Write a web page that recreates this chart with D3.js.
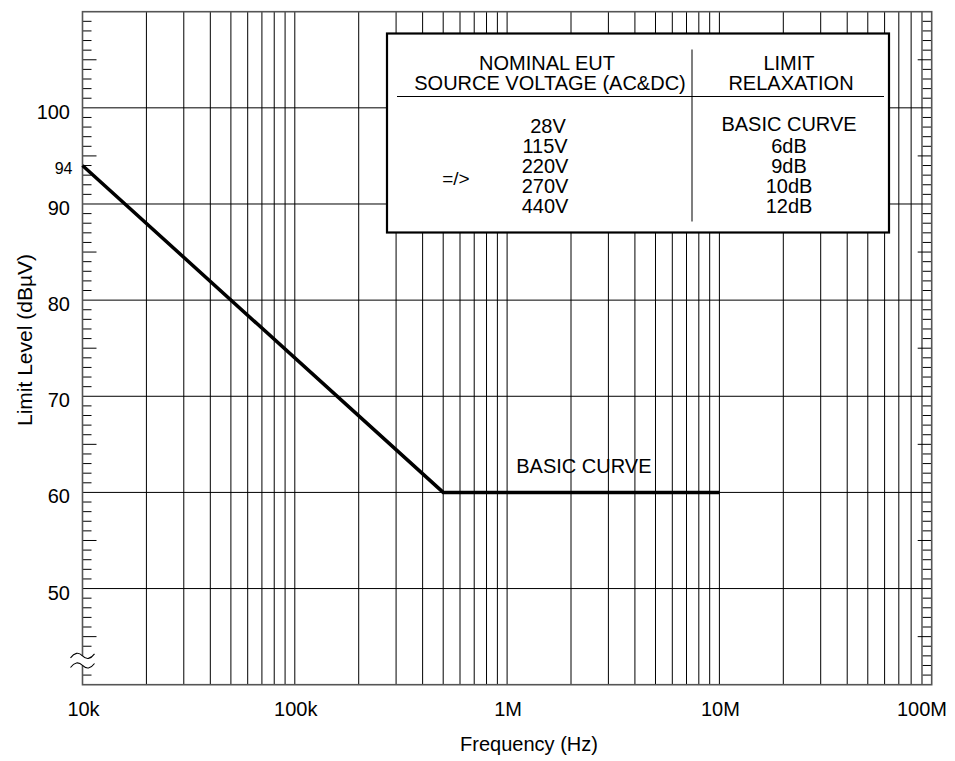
<!DOCTYPE html>
<html lang="en">
<head>
  <meta charset="utf-8">
  <title>Limit Level</title>
  <script src="https://cdn.jsdelivr.net/npm/d3@7/dist/d3.min.js"></script>
  <style>
    body { margin: 0; background: #fff; }
    text { font-family: "Liberation Sans", Arial, sans-serif; fill: #000; }
  </style>
</head>
<body>
  <script>
    // data
    const curveFreq = [1e4, 5e5, 1e7];
    const curveLevel = [94, 60, 60];
    const xTickValues = [1e4, 1e5, 1e6, 1e7, 1e8];
    const xTickLabels = ["10k", "100k", "1M", "10M", "100M"];
    const yTickValues = [50, 60, 70, 80, 90, 100];
    const yExtraTick = 94;
    const voltages = ["28V", "115V", "220V", "270V", "440V"];
    const relaxations = ["BASIC CURVE", "6dB", "9dB", "10dB", "12dB"];
    const curveLabel = { text: "BASIC CURVE", freq: 2.3e6, level: 62 };

    // config
    const width = 955, height = 761;
    const margin = { top: 11.7, right: 23.3, bottom: 76.3, left: 82.5 };
    const innerWidth = width - margin.left - margin.right;
    const innerHeight = height - margin.top - margin.bottom;

    const svg = d3.select("body").append("svg")
      .attr("width", width).attr("height", height);
    const g = svg.append("g")
      .attr("transform", `translate(${margin.left}, ${margin.top})`);

    const x = d3.scaleLog().domain([1e4, 1e8]).range([0, innerWidth]);
    const y = d3.scaleLinear().domain([40, 110]).range([innerHeight, 0]);

    // vertical grid: 1..9 in every decade
    let vGrid = [];
    for (let d = 1e4; d < 1e8; d *= 10) {
      for (let m = 1; m <= 9; m++) vGrid.push(d * m);
    }
    vGrid = vGrid.filter(v => v > 1e4);
    g.append("g").selectAll("line").data(vGrid).join("line")
      .attr("x1", d => x(d)).attr("x2", d => x(d))
      .attr("y1", 0).attr("y2", innerHeight)
      .attr("stroke", "#000").attr("stroke-width", 1);

    // horizontal grid
    g.append("g").selectAll("line").data(yTickValues).join("line")
      .attr("x1", 0).attr("x2", innerWidth)
      .attr("y1", d => y(d)).attr("y2", d => y(d))
      .attr("stroke", "#000").attr("stroke-width", 1);

    // minor ticks, left and right
    const minor = d3.range(41, 110).filter(v => v % 10 !== 0);
    const tickLen = v => (v % 5 === 0 ? 14 : 9);
    g.append("g").selectAll("line").data(minor.filter(v => v !== 42 && v !== 43)).join("line")
      .attr("x1", 0).attr("x2", d => tickLen(d))
      .attr("y1", d => y(d)).attr("y2", d => y(d))
      .attr("stroke", "#000").attr("stroke-width", 1);
    g.append("g").selectAll("line").data(minor).join("line")
      .attr("x1", innerWidth).attr("x2", d => innerWidth - tickLen(d))
      .attr("y1", d => y(d)).attr("y2", d => y(d))
      .attr("stroke", "#000").attr("stroke-width", 1);

    // frame
    g.append("rect")
      .attr("x", 0).attr("y", 0)
      .attr("width", innerWidth).attr("height", innerHeight)
      .attr("fill", "none").attr("stroke", "#555").attr("stroke-width", 1.6);

    // axis break symbol
    const brk = g.append("g");
    brk.append("rect")
      .attr("x", -3).attr("y", y(43)).attr("width", 6).attr("height", y(42) - y(43))
      .attr("fill", "#fff");
    [43, 42].forEach(v => {
      brk.append("path")
        .attr("d", `M-12,${y(v) + 2} Q-6,${y(v) - 6} 0,${y(v)} T12,${y(v) - 2}`)
        .attr("fill", "none").attr("stroke", "#000").attr("stroke-width", 1.1);
    });

    // y tick labels
    g.append("g").selectAll("text").data(yTickValues).join("text")
      .attr("x", -12.5).attr("y", d => y(d) + 11)
      .attr("text-anchor", "end").style("font-size", "20px")
      .text(d => d);
    g.append("text")
      .attr("x", -10).attr("y", y(yExtraTick) + 8)
      .attr("text-anchor", "end").style("font-size", "16px")
      .text(yExtraTick);

    // x tick labels
    g.append("g").selectAll("text").data(xTickValues).join("text")
      .attr("x", (d, i) => Math.min(x(d) + 1, width - margin.left - 33))
      .attr("y", innerHeight + 31)
      .attr("text-anchor", "middle").style("font-size", "20px")
      .text((d, i) => xTickLabels[i]);

    // axis titles
    svg.append("text")
      .attr("transform", "translate(32, 340) rotate(-90)")
      .attr("text-anchor", "middle").style("font-size", "21px")
      .text("Limit Level (dB\u00B5V)");
    svg.append("text")
      .attr("x", 529).attr("y", 751)
      .attr("text-anchor", "middle").style("font-size", "20px")
      .text("Frequency (Hz)");

    // basic curve
    const line = d3.line().x(d => x(d[0])).y(d => y(d[1]));
    g.append("path")
      .datum(curveFreq.map((f, i) => [f, curveLevel[i]]))
      .attr("d", line)
      .attr("fill", "none").attr("stroke", "#000").attr("stroke-width", 3.5);
    g.append("text")
      .attr("x", x(curveLabel.freq)).attr("y", y(curveLabel.level))
      .attr("text-anchor", "middle").style("font-size", "20px")
      .text(curveLabel.text);

    // legend table
    const lg = svg.append("g").attr("transform", "translate(387, 33.5)");
    lg.append("rect")
      .attr("x", 0).attr("y", 0).attr("width", 502).attr("height", 199)
      .attr("fill", "#fff").attr("stroke", "#000").attr("stroke-width", 2.2);
    lg.append("line")
      .attr("x1", 305).attr("x2", 305).attr("y1", 16).attr("y2", 188)
      .attr("stroke", "#555").attr("stroke-width", 1.5);
    lg.append("line")
      .attr("x1", 10).attr("x2", 497).attr("y1", 63).attr("y2", 63)
      .attr("stroke", "#000").attr("stroke-width", 1.2);
    const head = lg.append("g").style("font-size", "20px").attr("text-anchor", "middle");
    head.append("text").attr("x", 160).attr("y", 36.5).text("NOMINAL EUT");
    head.append("text").attr("x", 163).attr("y", 56).text("SOURCE VOLTAGE (AC&DC)");
    head.append("text").attr("x", 402).attr("y", 36.5).text("LIMIT");
    head.append("text").attr("x", 404).attr("y", 56).text("RELAXATION");
    const rowY = d3.scaleLinear().domain([0, 4]).range([99, 179.5]);
    lg.append("g").selectAll("text").data(voltages).join("text")
      .attr("x", (d, i) => (i === 0 ? 161 : 158)).attr("y", (d, i) => rowY(i))
      .attr("text-anchor", "middle").style("font-size", "20px")
      .text(d => d);
    lg.append("g").selectAll("text").data(relaxations).join("text")
      .attr("x", 402).attr("y", (d, i) => rowY(i) - (i === 0 ? 1.5 : 0))
      .attr("text-anchor", "middle").style("font-size", "20px")
      .text(d => d);
    lg.append("text")
      .attr("x", 69).attr("y", 151)
      .attr("text-anchor", "middle").style("font-size", "19px")
      .text("=/>");
  </script>
</body>
</html>
